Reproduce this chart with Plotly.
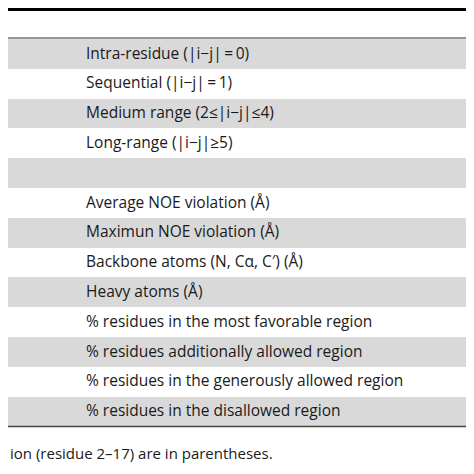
import plotly.graph_objects as go

labels = [
    "Intra-residue (|i\u2212j|\u2009=\u20090)",
    "Sequential (|i\u2212j|\u2009=\u20091)",
    "Medium range (2\u2264|i\u2212j|\u22644)",
    "Long-range (|i\u2212j|\u22655)",
    "",
    "Average NOE violation (\u00c5)",
    "Maximun NOE violation (\u00c5)",
    "Backbone atoms (N, C\u03b1, C\u2032) (\u00c5)",
    "Heavy atoms (\u00c5)",
    "% residues in the most favorable region",
    "% residues additionally allowed region",
    "% residues in the generously allowed region",
    "% residues in the disallowed region",
]
footnote = "ion (residue 2\u201317) are in parentheses."

W, H = 474, 474
ROW_H = 29.8
HEAD_H = 31
shade = ["#d9d9d9" if i % 2 == 0 else "#ffffff" for i in range(len(labels))]

fig = go.Figure(go.Table(
    columnwidth=[70, 404],
    header=dict(values=["", ""], height=HEAD_H, fill_color="white",
                line=dict(width=0, color="white")),
    cells=dict(
        values=[[""] * len(labels), labels],
        height=ROW_H,
        align="left",
        fill_color=[shade, shade],
        line=dict(width=0, color="rgba(0,0,0,0)"),
        font=dict(family="Open Sans", size=15.5, color="#1a1a1a"),
    ),
    domain=dict(x=[0, 1], y=[0, 1]),
))

def py(px):
    return 1 - px / H

bottom = HEAD_H + ROW_H * len(labels)
fig.add_shape(type="line", xref="paper", yref="paper", x0=0, x1=1,
              y0=py(1.5), y1=py(1.5), line=dict(color="black", width=3))
fig.add_shape(type="line", xref="paper", yref="paper", x0=0, x1=1,
              y0=py(HEAD_H - 1), y1=py(HEAD_H - 1), line=dict(color="#333", width=1.2))
fig.add_shape(type="line", xref="paper", yref="paper", x0=0, x1=1,
              y0=py(bottom), y1=py(bottom), line=dict(color="#444", width=1.5))
fig.add_annotation(text=footnote, xref="paper", yref="paper", x=0, y=py(bottom + 27),
                   xanchor="left", yanchor="middle", showarrow=False,
                   font=dict(family="Open Sans", size=15, color="#1a1a1a"))

fig.update_layout(width=W, height=H, margin=dict(l=0, r=0, t=0, b=0),
                  paper_bgcolor="white")
fig.write_html("out.html")
